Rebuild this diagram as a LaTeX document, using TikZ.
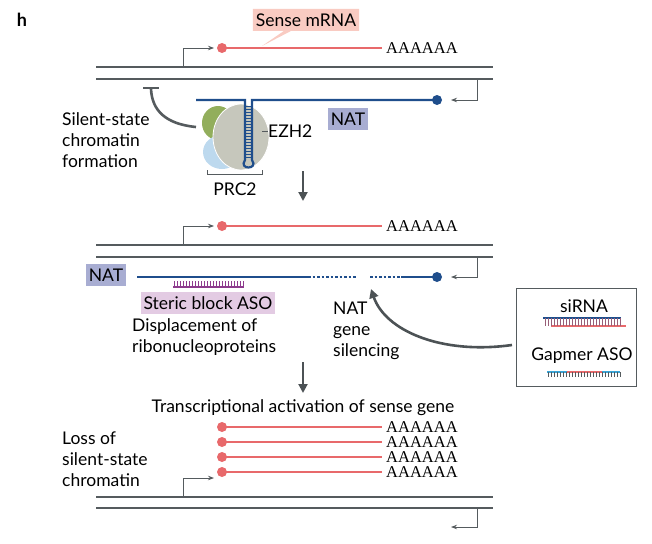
\documentclass[tikz,border=0pt]{standalone}
\usepackage{fontspec}
\setmainfont{Lato}
\newfontfamily\polyafont{Liberation Serif}
\usetikzlibrary{arrows.meta,shapes.callouts}
\definecolor{mrna}{HTML}{E8696B}
\definecolor{natblue}{HTML}{1F4E8C}
\definecolor{dnagray}{HTML}{555B5E}
\definecolor{pinkbox}{HTML}{F9CBC2}
\definecolor{natbox}{HTML}{A8ADD2}
\definecolor{asobox}{HTML}{E3CBE3}
\definecolor{asopurple}{HTML}{8E3B8E}
\definecolor{cyanaso}{HTML}{3AA6D8}
\definecolor{prcgreen}{HTML}{92AE5C}
\definecolor{prcblue}{HTML}{BDD9EE}
\definecolor{prcgray}{HTML}{C6C7BC}
\tikzset{
  txt/.style={font=\fontsize{17.5}{21}\selectfont, inner sep=0pt, align=left},
  dna/.style={dnagray, line width=1.1pt},
  prom/.style={dnagray, line width=0.8pt, -{Stealth[length=6pt]}},
  sense/.style={mrna, line width=2.2pt},
  nat/.style={natblue, line width=2.2pt},
  tag/.style={txt, inner sep=3pt, minimum height=22pt},
  bigarrow/.style={dnagray!90!black, line width=2pt, -{Triangle[length=9pt,width=9pt]}},
}
\newcommand{\polyA}[1]{\node[txt, anchor=west] at (386,#1) {\polyafont\fontsize{16.5}{18}\selectfont AAAAAA};}
\newcommand{\senseline}[1]{
  \draw[sense] (222,#1) -- (382,#1);
  \fill[mrna] (222,#1) circle (5pt);
  \polyA{#1}}
\begin{document}
\begin{tikzpicture}[x=1pt, y=-1pt]
\useasboundingbox (0,0) rectangle (652,543);

\node[txt, font=\fontsize{18}{20}\bfseries] (h) at (22,20) {h};

% top panel
\draw[dna] (96,67) -- (493,67);
\draw[dna] (96,79) -- (493,79);
\draw[prom] (183,67) -- (183,48) -- (214,48);
\draw[prom] (477,79) -- (477,100) -- (451,100);
\senseline{48}
\node[tag, fill=pinkbox, rectangle callout, callout absolute pointer={(262,46)}, anchor=center] (sense) at (306,20) {Sense mRNA};

% PRC2 blobs
\fill[prcgreen] (218,123) ellipse (16pt and 17pt);
\fill[prcblue] (222,152) ellipse (19pt and 17pt);
\filldraw[fill=prcgray, draw=white, line width=0.8pt] (241,137) ellipse (28pt and 33pt);
\draw[nat] (196,100) -- (245,100) -- (245,160) .. controls (238,170) and (259,170) .. (252,160) -- (252,100) -- (437,100);
\foreach \y in {106,109,...,157} \draw[natblue, line width=0.5pt] (245,\y) -- (252,\y);
\fill[natblue] (437,100) circle (5pt);
\node[tag, fill=natbox] (nat1) at (348,119) {NAT};
\draw[dnagray, line width=0.6pt] (262,131) -- (268,131);
\node[txt, anchor=west] (ezh) at (268,131) {EZH2};
\draw[dnagray, line width=0.6pt] (207,170) -- (207,174) -- (262,174) -- (262,170);
\node[txt] (prc) at (235,189) {PRC2};
\draw[dnagray, line width=2.6pt] (196,127) .. controls (165,124) and (152,110) .. (151,89);
\draw[dnagray, line width=2.6pt] (143,88) -- (159,88);
\node[txt, anchor=north west] (silent) at (62,112) {Silent-state\\chromatin\\formation};
\draw[bigarrow] (303,171) -- (303,201);

% middle panel
\draw[dna] (96,245) -- (493,245);
\draw[dna] (96,257) -- (493,257);
\draw[prom] (183,245) -- (183,226) -- (214,226);
\draw[prom] (477,257) -- (477,277) -- (451,277);
\senseline{226}
\node[tag, fill=natbox] (nat2) at (106,275) {NAT};
\draw[nat] (137,277) -- (308,277);
\draw[nat, line width=1.8pt, dash pattern=on 2.5pt off 2pt] (308,277) -- (357,277);
\draw[nat, line width=1.8pt, dash pattern=on 2.5pt off 2pt] (370,277) -- (401,277);
\draw[nat] (401,277) -- (437,277);
\fill[natblue] (437,277) circle (5pt);
\draw[asopurple, line width=2pt] (173,287) -- (244,287);
\foreach \x in {174,177,...,243} \draw[asopurple, line width=0.5pt] (\x,287) -- (\x,281);
\node[tag, fill=asobox] (steric) at (208,303) {Steric block ASO};
\node[txt, anchor=north west] (displace) at (132,318) {Displacement of\\ribonucleoproteins};
\node[txt, anchor=north west] (silencing) at (333,302) {NAT\\gene\\silencing};
\node[draw=dnagray, line width=0.8pt, minimum width=120pt, minimum height=98pt] (box) at (576,337) {};
\node[txt] (sirna) at (584,306) {siRNA};
\draw[natblue, line width=2pt] (543,318) -- (621,318);
\draw[mrna, line width=2pt] (551,326) -- (626,326);
\foreach \x in {545,548,...,620} \draw[mrna!60!natblue, line width=0.5pt] (\x,318) -- (\x,326);
\node[txt] (gapmer) at (582,356) {Gapmer ASO};
\draw[cyanaso, line width=2pt] (547,372) -- (567,372);
\draw[mrna, line width=2pt] (567,372) -- (602,372);
\draw[cyanaso, line width=2pt] (602,372) -- (620,372);
\foreach \x in {548,551,...,620} \draw[dnagray, line width=0.5pt] (\x,372) -- (\x,377);
\coordinate (silstart) at (512,345);
\coordinate (silend) at (371,289);
\draw[bigarrow, line width=2.6pt] (silstart) .. controls (440,355) and (385,330) .. (silend);
\draw[bigarrow] (303,362) -- (303,393);

% bottom panel
\node[txt] (activ) at (303,408) {Transcriptional activation of sense gene};
\foreach \y in {427,442,457,472} {\senseline{\y}}
\node[txt, anchor=north west] (loss) at (62,432) {Loss of\\silent-state\\chromatin};
\draw[dna] (96,497) -- (493,497);
\draw[dna] (96,508) -- (493,508);
\draw[prom] (183,497) -- (183,478) -- (214,478);
\draw[prom] (477,508) -- (477,527) -- (451,527);
\end{tikzpicture}
\end{document}
